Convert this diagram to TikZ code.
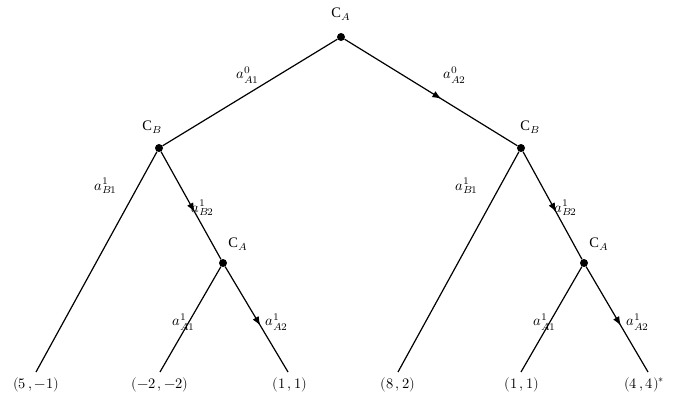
\documentclass[tikz,border=0pt]{standalone}
\usepackage{fontspec}
\setmainfont{Liberation Serif}
\usepackage{unicode-math}
\setmathfont{Latin Modern Math}
\usetikzlibrary{decorations.markings,arrows.meta}
\newcommand{\bigt}[1]{\scalebox{1.45}{#1}}
\begin{document}
\begin{tikzpicture}[x=1pt,y=-1pt,
  dot/.style={circle,fill,inner sep=0pt,minimum size=8pt},
  lbl/.style={inner sep=0pt},
  edge/.style={line width=1.2pt},
  arr/.style={edge,postaction={decorate},decoration={markings,mark=at position 0.56 with {\arrow{Latex[length=9pt,width=7pt]}}}}]
\useasboundingbox (0,0) rectangle (685,403);
\node[dot] (r) at (341,37) {};
\node[dot] (bl) at (159,148) {};
\node[dot] (br) at (521,148) {};
\node[dot] (al) at (223,263) {};
\node[dot] (ar) at (584,263) {};
\coordinate (l1) at (36,372);
\coordinate (l2) at (160,372);
\coordinate (l3) at (288,372);
\coordinate (l4) at (398,372);
\coordinate (l5) at (521,372);
\coordinate (l6) at (648,372);
\node[lbl,anchor=north] (t1) at (36,377) {\bigt{$(5\,,-1)$}};
\node[lbl,anchor=north] (t2) at (160,377) {\bigt{$(-2\,,-2)$}};
\node[lbl,anchor=north] (t3) at (290,377) {\bigt{$(1\,,1)$}};
\node[lbl,anchor=north] (t4) at (398,377) {\bigt{$(8\,,2)$}};
\node[lbl,anchor=north] (t5) at (522,377) {\bigt{$(1\,,1)$}};
\node[lbl,anchor=north west] (t6) at (624,377) {\bigt{$(4\,,4)^{*}$}};
\draw[edge] (r) -- (bl);
\draw[arr] (r) -- (br);
\draw[edge] (bl) -- (l1);
\draw[arr] (bl) -- (al);
\draw[edge] (al) -- (l2);
\draw[arr] (al) -- (l3);
\draw[edge] (br) -- (l4);
\draw[arr] (br) -- (ar);
\draw[edge] (ar) -- (l5);
\draw[arr] (ar) -- (l6);
\node[lbl] at (341,14) {\bigt{C$_{A}$}};
\node[lbl] at (152,127) {\bigt{C$_{B}$}};
\node[lbl] at (530,127) {\bigt{C$_{B}$}};
\node[lbl] at (238,244) {\bigt{C$_{A}$}};
\node[lbl] at (599,244) {\bigt{C$_{A}$}};
\node[lbl] at (248,75) {\bigt{$a^{0}_{A1}$}};
\node[lbl] at (455,75) {\bigt{$a^{0}_{A2}$}};
\node[lbl] at (106,186) {\bigt{$a^{1}_{B1}$}};
\node[lbl] at (203,208) {\bigt{$a^{1}_{B2}$}};
\node[lbl] at (184,322) {\bigt{$a^{1}_{A1}$}};
\node[lbl] at (277,322) {\bigt{$a^{1}_{A2}$}};
\node[lbl] at (467,186) {\bigt{$a^{1}_{B1}$}};
\node[lbl] at (566,208) {\bigt{$a^{1}_{B2}$}};
\node[lbl] at (545,322) {\bigt{$a^{1}_{A1}$}};
\node[lbl] at (638,322) {\bigt{$a^{1}_{A2}$}};
\end{tikzpicture}
\end{document}
